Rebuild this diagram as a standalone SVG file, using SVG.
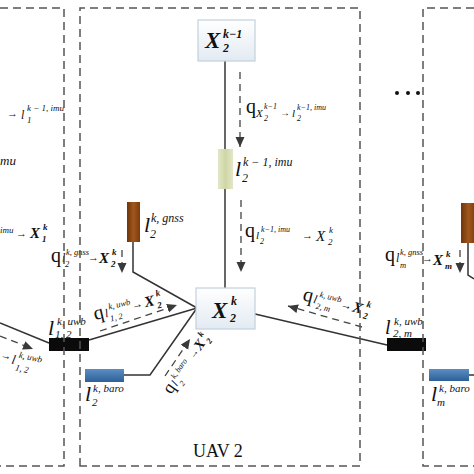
<svg xmlns="http://www.w3.org/2000/svg" width="474" height="474" viewBox="0 0 474 474">
<defs>
<linearGradient id="gx" x1="0" y1="0" x2="0" y2="1"><stop offset="0" stop-color="#ffffff"/><stop offset="1" stop-color="#e2eaf2"/></linearGradient>
<linearGradient id="gi" x1="0" y1="0" x2="1" y2="0"><stop offset="0" stop-color="#e3e7c8"/><stop offset="0.5" stop-color="#cfd6a6"/><stop offset="1" stop-color="#e3e7c8"/></linearGradient>
<linearGradient id="gg" x1="0" y1="0" x2="1" y2="0"><stop offset="0" stop-color="#6f3509"/><stop offset="0.5" stop-color="#a1561c"/><stop offset="1" stop-color="#7a3b0c"/></linearGradient>
<linearGradient id="gb" x1="0" y1="0" x2="0" y2="1"><stop offset="0" stop-color="#5a8ec4"/><stop offset="1" stop-color="#2e6097"/></linearGradient>
<marker id="ah" markerUnits="userSpaceOnUse" markerWidth="11" markerHeight="10" refX="10" refY="4.5" orient="auto"><path d="M0,0 L10,4.5 L0,9 z" fill="#3a3a3a" stroke="none"/></marker>
<style>
.pan{fill:none;stroke:#555;stroke-width:1.5;stroke-dasharray:8 5}
.ln{fill:none;stroke:#333;stroke-width:1.5}
.da{fill:none;stroke:#444;stroke-width:1.3;stroke-dasharray:7 5;marker-end:url(#ah)}
.m{font-family:"Liberation Serif","DejaVu Serif",serif;font-style:italic;fill:#111}
.u{font-family:"Liberation Serif","DejaVu Serif",serif;font-style:normal;fill:#111}
.bx{font-weight:bold}
.box{fill:url(#gx);stroke:#c3d0dc;stroke-width:1.2}
</style>
</defs>
<rect width="474" height="474" fill="#fff"/>

<g id="connectors">
<path class="ln" d="M225,61 L225,149"/>
<path class="ln" d="M225,189 L225,288"/>
<path class="ln" d="M133,242 L133,272 L197,308"/>
<path class="ln" d="M89,340 L197,308"/>
<path class="ln" d="M124,375 L150,375 L197,308"/>
<path class="ln" d="M255,314 L387,345"/>
<path class="ln" d="M0,323 L49,343"/>
<path class="ln" d="M469,375 L474,375"/>
<path class="ln" d="M468,243 L468,275 L474,279"/>
<path class="da" d="M240,72 L240,147"/>
<path class="da" d="M241,200 L241,272"/>
<path class="da" d="M122,250 L122,273"/>
<path class="da" d="M100,331 L177,305"/>
<path class="da" d="M165,376 L190,339"/>
<path class="da" d="M362,327 L288,306"/>
<path class="da" d="M0,336 L33,349"/>
<path class="da" d="M460,250 L460,273"/>
</g>

<g id="node-x2km1">
<rect class="box" x="198" y="20" width="57" height="41"/>
<text class="m bx" x="205" y="48" font-size="23">X</text>
<text class="m bx" x="223" y="38" font-size="12">k−1</text>
<text class="m bx" x="223" y="52" font-size="12">2</text>
</g>

<g id="node-x2k">
<rect class="box" x="196" y="288" width="59" height="41"/>
<text class="m bx" x="212" y="318" font-size="23">X</text>
<text class="m bx" x="231" y="305" font-size="12">k</text>
<text class="m bx" x="230" y="322" font-size="12">2</text>
</g>

<g id="node-imu">
<rect x="218" y="149" width="15" height="40" fill="url(#gi)"/>
<text class="m" x="235" y="176" font-size="22">l</text>
<text class="m" x="243" y="166" font-size="12">k − 1, imu</text>
<text class="m" x="242" y="182" font-size="12">2</text>
</g>

<g id="node-gnss">
<rect x="127" y="202" width="13" height="40" fill="url(#gg)"/>
<text class="m" x="144" y="232" font-size="22">l</text>
<text class="m" x="151" y="222" font-size="12">k, gnss</text>
<text class="m" x="150" y="238" font-size="12">2</text>
</g>

<g id="node-uwb12">
<rect x="49" y="338" width="40" height="13" fill="#0b0b0b"/>
<text class="m" x="48" y="335" font-size="22">l</text>
<text class="m" x="57" y="325" font-size="11">k, uwb</text>
<text class="m" x="55" y="338" font-size="11">1, 2</text>
</g>

<g id="node-baro2">
<rect x="85" y="369" width="39" height="13" fill="url(#gb)"/>
<text class="m" x="85" y="401" font-size="22">l</text>
<text class="m" x="93" y="392" font-size="11">k, baro</text>
<text class="m" x="92" y="406" font-size="11">2</text>
</g>

<g id="node-uwb2m">
<rect x="387" y="338" width="39" height="13" fill="#0b0b0b"/>
<text class="m" x="385" y="334" font-size="20">l</text>
<text class="m" x="394" y="325" font-size="11">k, uwb</text>
<text class="m" x="393" y="337" font-size="11">2, m</text>
</g>

<g id="node-barom">
<rect x="429" y="369" width="40" height="12" fill="url(#gb)"/>
<text class="m" x="431" y="401" font-size="22">l</text>
<text class="m" x="439" y="392" font-size="11">k, baro</text>
<text class="m" x="437" y="406" font-size="11">m</text>
</g>

<g id="node-gnssm">
<rect x="461" y="203" width="15" height="40" fill="url(#gg)"/>
</g>

<g id="labels">
<text class="u" x="246" y="113" font-size="20">q</text>
<text class="m" x="256" y="117" font-size="11">X</text>
<text class="m" x="264" y="109" font-size="8">k−1</text>
<text class="m" x="264" y="121" font-size="8">2</text>
<text class="u" x="280" y="116" font-size="10">→</text>
<text class="m" x="292" y="117" font-size="11">l</text>
<text class="m" x="297" y="110" font-size="8">k−1, imu</text>
<text class="m" x="297" y="121" font-size="8">2</text>

<text class="u" x="245" y="237" font-size="20">q</text>
<text class="m" x="256" y="239" font-size="11">l</text>
<text class="m" x="261" y="232" font-size="8">k−1, imu</text>
<text class="m" x="260" y="244" font-size="8">2</text>
<text class="u" x="302" y="239" font-size="11">→</text>
<text class="m" x="316" y="241" font-size="15">X</text>
<text class="m" x="329" y="233" font-size="9">k</text>
<text class="m" x="328" y="245" font-size="9">2</text>

<text class="u" x="51" y="262" font-size="20">q</text>
<text class="m" x="62" y="262" font-size="12">l</text>
<text class="m" x="66" y="255" font-size="8.5">k, gnss</text>
<text class="m" x="65" y="267" font-size="8.5">2</text>
<text class="u" x="88" y="261" font-size="11">→</text>
<text class="m bx" x="99" y="263" font-size="15">X</text>
<text class="m bx" x="112" y="255" font-size="9">k</text>
<text class="m bx" x="111" y="267" font-size="9">2</text>

<g transform="translate(95,320) rotate(-13)">
<text class="u" x="0" y="0" font-size="20">q</text>
<text class="m" x="11" y="0" font-size="12">l</text>
<text class="m" x="16" y="-7" font-size="8.5">k, uwb</text>
<text class="m" x="15" y="5" font-size="8.5">1, 2</text>
<text class="u" x="39" y="-2" font-size="11">→</text>
<text class="m bx" x="52" y="-1" font-size="15">X</text>
<text class="m bx" x="65" y="-9" font-size="9">k</text>
<text class="m bx" x="64" y="3" font-size="9">2</text>
</g>

<g transform="translate(302,300) rotate(14)">
<text class="u" x="0" y="0" font-size="20">q</text>
<text class="m" x="11" y="0" font-size="12">l</text>
<text class="m" x="16" y="-7" font-size="8.5">k, uwb</text>
<text class="m" x="15" y="5" font-size="8.5">2, m</text>
<text class="u" x="39" y="-2" font-size="11">→</text>
<text class="m bx" x="51" y="-1" font-size="15">X</text>
<text class="m bx" x="64" y="-9" font-size="9">k</text>
<text class="m bx" x="63" y="3" font-size="9">2</text>
</g>

<g transform="translate(171,395) rotate(-55)">
<text class="u" x="0" y="0" font-size="18">q</text>
<text class="m" x="10" y="0" font-size="11">l</text>
<text class="m" x="15" y="-6" font-size="8">k, baro</text>
<text class="m" x="14" y="5" font-size="8">2</text>
<text class="u" x="42" y="-2" font-size="10">→</text>
<text class="m bx" x="53" y="-1" font-size="14">X</text>
<text class="m bx" x="65" y="-8" font-size="8.5">k</text>
<text class="m bx" x="64" y="3" font-size="8.5">2</text>
</g>

<text class="u" x="385" y="261" font-size="20">q</text>
<text class="m" x="396" y="262" font-size="12">l</text>
<text class="m" x="400" y="255" font-size="8.5">k, gnss</text>
<text class="m" x="400" y="268" font-size="8.5">m</text>
<text class="u" x="422" y="262" font-size="11">→</text>
<text class="m bx" x="433" y="265" font-size="15">X</text>
<text class="m bx" x="446" y="257" font-size="9">k</text>
<text class="m bx" x="445" y="269" font-size="9">m</text>

<text class="u" x="7" y="117" font-size="11">→</text>
<text class="m" x="21" y="119" font-size="12">l</text>
<text class="m" x="27" y="111" font-size="9">k − 1, imu</text>
<text class="m" x="27" y="123" font-size="9">1</text>

<text class="m" x="0" y="165" font-size="13">mu</text>

<text class="m" x="0" y="233" font-size="9">imu</text>
<text class="u" x="16" y="237" font-size="11">→</text>
<text class="m bx" x="30" y="238" font-size="15">X</text>
<text class="m bx" x="43" y="230" font-size="9">k</text>
<text class="m bx" x="42" y="242" font-size="9">1</text>

<g transform="translate(0,358) rotate(12)">
<text class="u" x="0" y="0" font-size="11">→</text>
<text class="m" x="12" y="3" font-size="13">l</text>
<text class="m" x="18" y="-4" font-size="9">k, uwb</text>
<text class="m" x="17" y="9" font-size="9">1, 2</text>
</g>

<text class="u" x="193" y="457" font-size="18">UAV 2</text>
<circle cx="397" cy="93" r="2" fill="#111"/>
<circle cx="408" cy="93" r="2" fill="#111"/>
<circle cx="418" cy="93" r="2" fill="#111"/>
</g>

<g id="panels">
<path class="pan" d="M0,8 L64,8 L64,466 L0,466"/>
<path class="pan" d="M80,466 L80,8 L360,8 L360,466 Z"/>
<path class="pan" d="M474,8 L423,8 L423,466 L474,466"/>
</g>
</svg>
